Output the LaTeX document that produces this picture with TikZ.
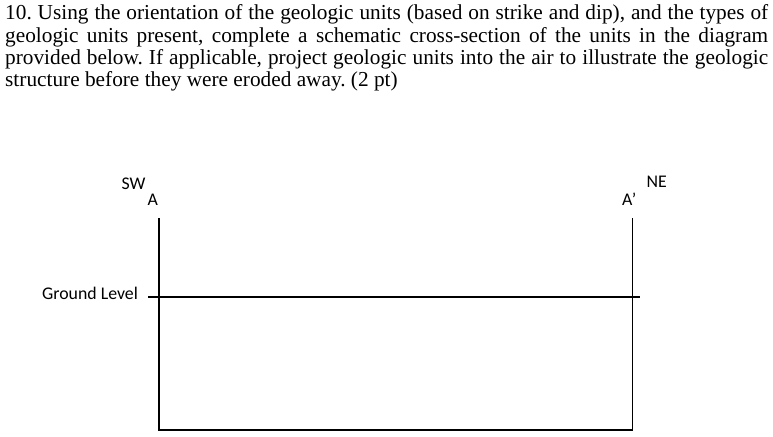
\documentclass[tikz,border=0pt]{standalone}
\usepackage{fontspec}
\setmainfont{Liberation Serif}
\newfontfamily\labfont{Carlito}
\frenchspacing
\begin{document}
\begin{tikzpicture}[x=1pt,y=-1pt,
  para/.style={anchor=base west, inner sep=0pt, font=\fontsize{21.3}{22}\selectfont},
  lab/.style={anchor=base west, inner sep=0pt, font=\labfont\fontsize{17.8}{20}\selectfont},
  frame/.style={line width=1.5pt, black}]
\useasboundingbox (0,0) rectangle (773,436);
\node[para] (t1) at (5,20) {\makebox[763pt][s]{10. Using the orientation of the geologic units (based on strike and dip), and the types of}};
\node[para] (t2) at (5,42.3) {\makebox[763pt][s]{geologic units present, complete a schematic cross-section of the units in the diagram}};
\node[para] (t3) at (5,64.6) {\makebox[763pt][s]{provided below. If applicable, project geologic units into the air to illustrate the geologic}};
\node[para] (t4) at (5,86.9) {structure before they were eroded away. (2 pt)};
\node[lab] (sw) at (121.5,189) {SW};
\node[lab] (a) at (147.5,205) {A};
\node[lab] (ne) at (646.5,187) {NE};
\node[lab] (ap) at (622,205) {A’};
\node[lab] (gl) at (42,299) {Ground Level};
\coordinate (ltop) at (159,218);
\coordinate (lbot) at (159,430);
\coordinate (rtop) at (632.5,218);
\coordinate (rbot) at (632.5,430);
\coordinate (gla) at (148,297);
\coordinate (glb) at (640,297);
\draw[frame] (ltop) -- (lbot) -- (rbot) -- (rtop);
\draw[frame] (gla) -- (glb);
\end{tikzpicture}
\end{document}
